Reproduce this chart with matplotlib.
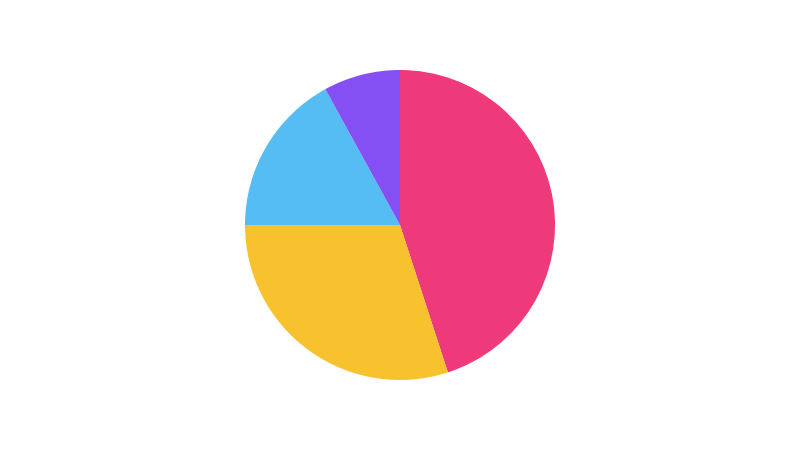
import matplotlib
matplotlib.use("Agg")
import matplotlib.pyplot as plt

categories = ["A", "B", "C", "D"]
values = [45, 30, 17, 8]
colors = ["#EE3A7B", "#F8C22E", "#55BDF4", "#8450F4"]

fig = plt.figure(figsize=(8, 4.5), dpi=100)
ax = fig.add_axes([0, 0, 1, 1])
ax.pie(values, colors=colors, startangle=90, counterclock=False,
       radius=1.0, center=(0, 0), wedgeprops=dict(linewidth=0))
r = 155.0
ax.set_xlim(-400 / r, 400 / r)
ax.set_ylim(-225 / r, 225 / r)
ax.set_aspect("equal")
ax.axis("off")
fig.savefig("out.png", dpi=100, facecolor="white")
